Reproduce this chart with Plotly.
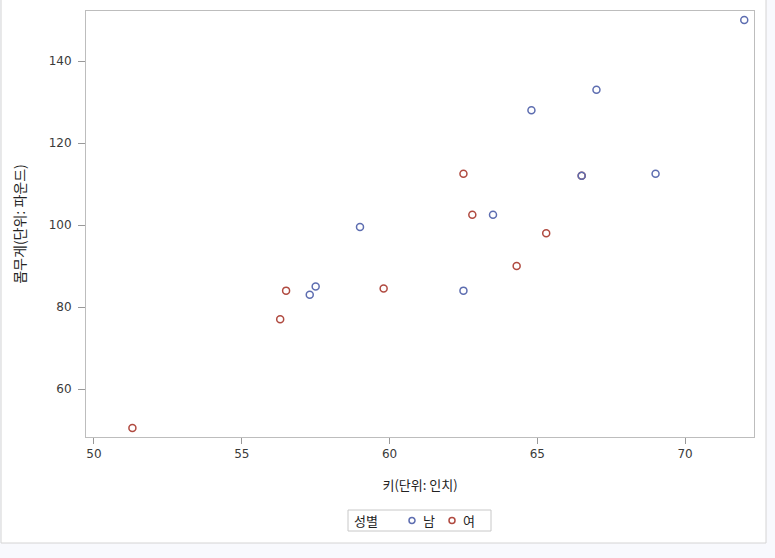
import plotly.graph_objects as go

# sashelp.class-like data
male_height = [69.0, 63.5, 57.3, 62.5, 59.0, 72.0, 64.8, 67.0, 57.5, 66.5]
male_weight = [112.5, 102.5, 83.0, 84.0, 99.5, 150.0, 128.0, 133.0, 85.0, 112.0]
female_height = [56.5, 65.3, 62.8, 59.8, 62.5, 51.3, 64.3, 56.3, 66.5]
female_weight = [84.0, 98.0, 102.5, 84.5, 112.5, 50.5, 90.0, 77.0, 112.0]
x_ticks = [50, 55, 60, 65, 70]
y_ticks = [60, 80, 100, 120, 140]
legend_title = "성별"
male_label = "남"
female_label = "여"

W, H = 775, 558
L, R, T, B = 86, 21, 11, 121
pw, ph = W - L - R, H - T - B

KFONT = "Noto Sans CJK KR"
NFONT = "DejaVu Sans"
BLUE = "#5d6db0"
RED = "#b04a40"

fig = go.Figure()
fig.add_trace(go.Scatter(x=female_height, y=female_weight, mode="markers", name=female_label,
                         marker=dict(symbol="circle-open", size=7, color=RED, line=dict(width=1.5))))
fig.add_trace(go.Scatter(x=male_height, y=male_weight, mode="markers", name=male_label,
                         marker=dict(symbol="circle-open", size=7, color=BLUE, line=dict(width=1.5))))

def px_x(p):
    return (p - L) / pw

def px_y(p):
    return (H - B - p) / ph

fig.add_shape(type="rect", xref="paper", yref="paper", layer="below",
              x0=px_x(1), x1=px_x(766), y0=px_y(543), y1=px_y(-5),
              fillcolor="white", line=dict(color="#d4d4d4", width=1))

# legend (drawn by hand to match the compact layout)
LY = 520.5
fig.add_shape(type="rect", xref="paper", yref="paper", layer="below",
              x0=px_x(348), x1=px_x(491), y0=px_y(531), y1=px_y(510),
              fillcolor="white", line=dict(color="#c8c8c8", width=1))
fig.add_annotation(text=legend_title, xref="paper", yref="paper", x=px_x(352), y=px_y(LY),
                   xanchor="left", yanchor="middle", showarrow=False,
                   font=dict(family=KFONT, size=13, color="#222222"))
for cx, col, lab in [(412, BLUE, male_label), (452, RED, female_label)]:
    fig.add_shape(type="circle", xref="paper", yref="paper",
                  x0=px_x(cx - 3), x1=px_x(cx + 3), y0=px_y(LY + 3), y1=px_y(LY - 3),
                  line=dict(color=col, width=1.5))
    fig.add_annotation(text=lab, xref="paper", yref="paper", x=px_x(cx + 9), y=px_y(LY),
                       xanchor="left", yanchor="middle", showarrow=False,
                       font=dict(family=KFONT, size=13, color="#222222"))

fig.update_layout(
    width=W, height=H,
    margin=dict(l=L, r=R, t=T, b=B),
    paper_bgcolor="#f8f9fd", plot_bgcolor="white",
    font=dict(family=KFONT, size=12, color="#333333"),
    showlegend=False,
    xaxis=dict(range=[49.73, 72.33], tickvals=x_ticks, ticks="outside", ticklen=6,
               tickcolor="#999999", showgrid=False, zeroline=False,
               tickfont=dict(family=NFONT, size=12, color="#3a3a3a"),
               showline=True, mirror=True, linecolor="#bdbdbd", linewidth=1,
               title=dict(text="키(단위: 인치)", standoff=20, font=dict(size=13, color="#222222"))),
    yaxis=dict(range=[48.3, 152.2], tickvals=y_ticks, ticks="outside", ticklen=7,
               tickcolor="#999999", showgrid=False, zeroline=False, ticklabelstandoff=4,
               tickfont=dict(family=NFONT, size=12, color="#3a3a3a"),
               showline=True, mirror=True, linecolor="#bdbdbd", linewidth=1,
               title=dict(text="몸무게(단위: 파운드)", standoff=19, font=dict(size=14, color="#222222"))),
)

fig.write_html("out.html")
